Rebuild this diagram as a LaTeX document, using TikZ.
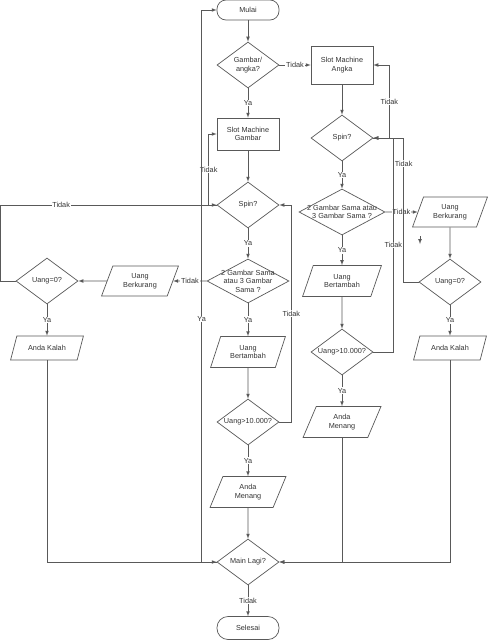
\documentclass[tikz,border=0pt]{standalone}
\usepackage{fontspec}
\setmainfont{Liberation Sans}
\usepackage{tikz}
\usetikzlibrary{arrows}
\usetikzlibrary{shapes.geometric}

\begin{document}
\begin{tikzpicture}[x=1pt,y=-1pt,line width=0.7pt]
\tikzstyle{every node}=[font=\fontsize{7.3}{8.6}\selectfont, text=black!80]
\tikzstyle{every label}=[align=center]
\tikzstyle{term}=[draw=black!65, fill=white, rounded corners=9pt, minimum width=62pt, minimum height=20pt]
\tikzstyle{proc}=[draw=black!65, fill=white, rectangle, align=center, minimum width=62pt, minimum height=32pt]
\tikzstyle{dec}=[draw=black!65, fill=white, diamond, inner sep=0pt, minimum width=62pt, minimum height=46pt]
\tikzstyle{io}=[draw=black!65, fill=white, trapezium, trapezium left angle=69, trapezium right angle=111, trapezium stretches=true, align=center, minimum width=75pt, minimum height=31pt]
\tikzstyle{flow}=[draw=black!65, arrows={-latex}]
\tikzstyle{yn}=[fill=white, inner sep=0.8pt]
\useasboundingbox (0,0) rectangle (490,640);
\node[term] (mulai) at (248,10) {Mulai};
\node[dec, label=center:{Gambar/\\angka?}] (ga) at (248,65) {};
\node[proc] (smg) at (248,134) {Slot Machine\\Gambar};
\node[dec, label=center:{Spin?}] (spin1) at (248,205) {};
\node[dec, minimum width=82pt, minimum height=44pt, label=center:{2 Gambar Sama\\atau 3 Gambar\\Sama ?}] (sama1) at (248,281) {};
\node[io] (tambah1) at (248,352) {Uang\\Bertambah};
\node[dec, label=center:{Uang>10.000?}] (lebih1) at (248,422) {};
\node[io, minimum width=76pt] (menang1) at (248,492) {Anda\\Menang};
\node[dec, label=center:{Main Lagi?}] (lagi) at (248,562) {};
\node[term, minimum height=23pt, rounded corners=11pt] (selesai) at (248,628) {Selesai};
\node[proc, minimum height=38pt] (sma) at (342,65) {Slot Machine\\Angka};
\node[dec, label=center:{Spin?}] (spin2) at (342,138) {};
\node[dec, minimum width=86pt, label=center:{2 Gambar Sama atau\\3 Gambar Sama ?}] (sama2) at (342,212) {};
\node[io, minimum width=79pt] (tambah2) at (342,281) {Uang\\Bertambah};
\node[dec, label=center:{Uang>10.000?}] (lebih2) at (342,352) {};
\node[io, minimum width=78pt] (menang2) at (342,422) {Anda\\Menang};
\node[io, minimum width=77pt, minimum height=30pt] (kurang1) at (140,281) {Uang\\Berkurang};
\node[dec, label=center:{Uang=0?}] (nol1) at (47,281) {};
\node[io, minimum width=73pt, minimum height=24pt] (kalah1) at (47,348) {Anda Kalah};
\node[io, minimum height=30pt] (kurang2) at (450,212) {Uang\\Berkurang};
\node[dec, label=center:{Uang=0?}] (nol2) at (450,282) {};
\node[io, minimum width=73pt, minimum height=24pt] (kalah2) at (450,348) {Anda Kalah};
\coordinate (s1) at (420,236);
\coordinate (s2) at (420,244);
\path[flow] (mulai) -- (ga);
\path[flow] (ga) -- node[yn]{Ya} (smg);
\path[flow] (ga) -- node[yn]{Tidak} (sma);
\path[flow] (smg) -- (spin1);
\path[flow] (spin1.west) -- ++(-8,0) |- node[yn,pos=0.25]{Tidak} (smg.west);
\path[flow] (nol1.west) -- ++(-15,0) |- node[yn,pos=0.64]{Tidak} (spin1.west);
\path[flow] (spin1) -- node[yn]{Ya} (sama1);
\path[flow] (sama1) -- node[yn]{Tidak} (kurang1);
\path[flow] (kurang1) -- (nol1);
\path[flow] (nol1) -- node[yn]{Ya} (kalah1);
\path[flow] (kalah1) |- (lagi.west);
\path[flow] (sama1) -- node[yn]{Ya} (tambah1);
\path[flow] (tambah1) -- (lebih1);
\path[flow] (lebih1.east) -- ++(12,0) |- node[yn,pos=0.25]{Tidak} (spin1.east);
\path[flow] (lebih1) -- node[yn]{Ya} (menang1);
\path[flow] (menang1) -- (lagi);
\path[flow] (lagi) -- node[yn]{Tidak} (selesai);
\path[flow] (lagi.west) -- ++(-15,0) |- node[yn,pos=0.22]{Ya} (mulai.west);
\path[flow] (sma) -- (spin2);
\path[flow] (spin2.east) -- ++(16,0) |- node[yn,pos=0.25]{Tidak} (sma.east);
\path[flow] (spin2) -- node[yn]{Ya} (sama2);
\path[flow] (sama2) -- node[yn]{Tidak} (kurang2);
\path[flow] (sama2) -- node[yn]{Ya} (tambah2);
\path[flow] (tambah2) -- (lebih2);
\path[flow] (lebih2.east) -- ++(20,0) |- node[yn,pos=0.25]{Tidak} (spin2.east);
\path[flow] (lebih2) -- node[yn]{Ya} (menang2);
\path[flow] (menang2) |- (lagi.east);
\path[flow] (kurang2) -- (nol2);
\path[flow] (nol2.west) -- ++(-15,0) |- node[yn,pos=0.41]{Tidak} (spin2.east);
\path[flow] (nol2) -- node[yn]{Ya} (kalah2);
\path[flow] (kalah2) |- (lagi.east);
\path[flow] (s1) -- (s2);
\end{tikzpicture}
\end{document}
